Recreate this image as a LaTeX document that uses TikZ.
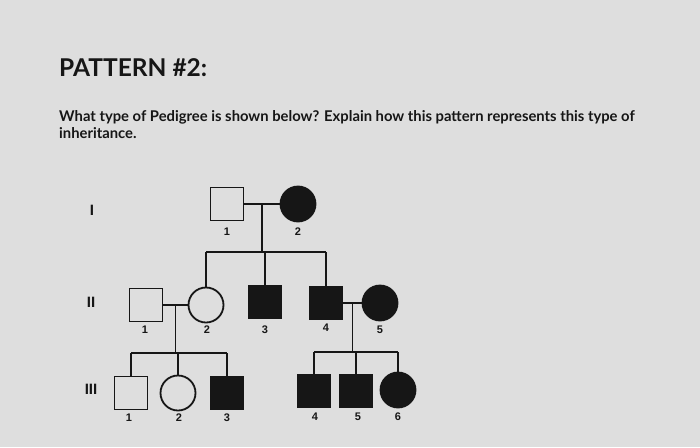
\documentclass[tikz,border=0pt]{standalone}
\usepackage{fontspec}
\setmainfont{Lato}
\newfontfamily\pedfont{Liberation Sans}
\usetikzlibrary{calc}
\definecolor{screen}{RGB}{222,222,222}
\definecolor{ink}{RGB}{22,22,22}
\tikzset{
  male/.style={draw=ink,line width=1.8pt,minimum size=33pt,inner sep=0pt},
  female/.style={circle,draw=ink,line width=1.8pt,minimum size=35pt,inner sep=0pt},
  aff/.style={fill=ink},
  num/.style={font=\pedfont\bfseries\fontsize{11}{11}\selectfont,text=ink,inner sep=1pt},
  gen/.style={font=\pedfont\bfseries\fontsize{15}{15}\selectfont,text=ink},
  kin/.style={draw=ink,line width=1.8pt}
}

\begin{document}
\begin{tikzpicture}[x=1pt,y=-1pt]
\fill[screen] (0,0) rectangle (700,447);
\useasboundingbox (0,0) rectangle (700,447);
% heading
\node[anchor=base west,inner sep=0pt,text=ink,font=\bfseries\fontsize{24.5}{24.5}\selectfont] (title) at (59,76) {PATTERN \#2:};
\node[anchor=base west,inner sep=0pt,text=ink,font=\bfseries\fontsize{14.8}{14.8}\selectfont] (q1) at (59,121) {What type of Pedigree is shown below? Explain how this pattern represents this type of};
\node[anchor=base west,inner sep=0pt,text=ink,font=\bfseries\fontsize{14.8}{14.8}\selectfont] (q2) at (59,138) {inheritance.};
% generations
\node[gen] (gI) at (92,210) {I};
\node[gen] (gII) at (91,302) {II};
\node[gen] (gIII) at (91,389) {III};
% generation I
\node[male] (I1) at (227,204) {};
\node[female,aff] (I2) at (298,204) {};
% generation II
\node[male] (II1) at (146,305) {};
\node[female] (II2) at (206,305) {};
\node[male,aff] (II3) at (265,302) {};
\node[male,aff] (II4) at (326,303) {};
\node[female,aff] (II5) at (380,303) {};
% generation III
\node[male] (III1) at (131,393) {};
\node[female] (III2) at (178,393) {};
\node[male,aff] (III3) at (227,393) {};
\node[male,aff] (III4) at (314,391) {};
\node[male,aff] (III5) at (356,391) {};
\node[female,aff] (III6) at (398,390) {};
% numbers
\node[num] (nI1) at (227,232) {1};
\node[num] (nI2) at (298,232) {2};
\node[num] (nII1) at (145,330) {1};
\node[num] (nII2) at (207,330) {2};
\node[num] (nII3) at (265,330) {3};
\node[num] (nII4) at (326,328) {4};
\node[num] (nII5) at (380,330) {5};
\node[num] (nIII1) at (129,418) {1};
\node[num] (nIII2) at (179,418) {2};
\node[num] (nIII3) at (227,418) {3};
\node[num] (nIII4) at (315,417) {4};
\node[num] (nIII5) at (358,417) {5};
\node[num] (nIII6) at (398,417) {6};
% family of I
\coordinate (m1) at ($(I1.east)!0.5!(I2.west)$);
\coordinate (s1) at (m1 |- 0,252);
\draw[kin] (I1) -- (I2);
\draw[kin] (m1) -- (s1);
\draw[kin] (II2.north |- s1) -- (II4.north |- s1);
\foreach \c in {II2,II3,II4} \draw[kin] (\c.north |- s1) -- (\c.north);
% family of II-1 and II-2
\coordinate (m2) at ($(II1.east)!0.5!(II2.west)$);
\coordinate (s2) at (m2 |- 0,353);
\draw[kin] (II1) -- (II2);
\draw[kin] (m2) -- (s2);
\draw[kin] (III1.north |- s2) -- (III3.north |- s2);
\foreach \c in {III1,III2,III3} \draw[kin] (\c.north |- s2) -- (\c.north);
% family of II-4 and II-5
\coordinate (m3) at ($(II4.east)!0.5!(II5.west)$);
\coordinate (s3) at (m3 |- 0,352);
\draw[kin] (II4) -- (II5);
\draw[kin] (m3) -- (s3);
\draw[kin] (III4.north |- s3) -- (III6.north |- s3);
\foreach \c in {III4,III5,III6} \draw[kin] (\c.north |- s3) -- (\c.north);
\end{tikzpicture}
\end{document}
